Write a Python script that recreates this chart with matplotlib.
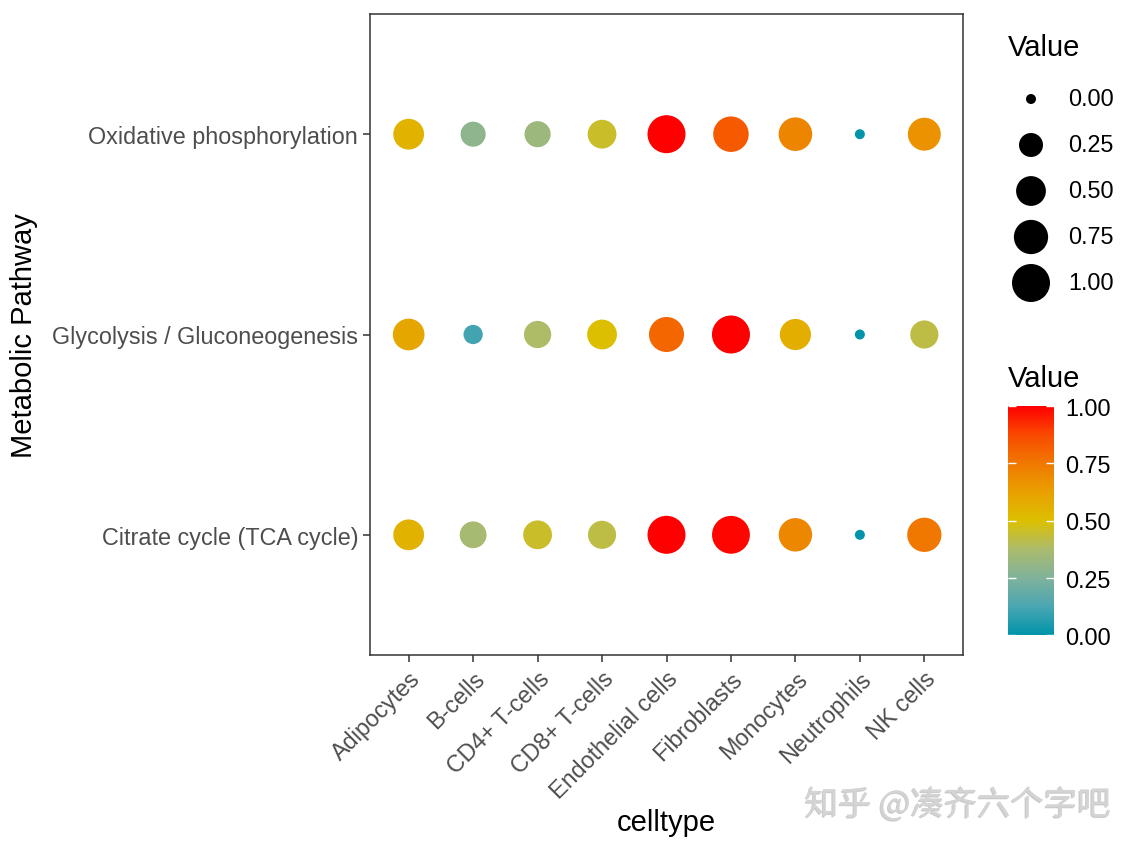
import numpy as np
import matplotlib
matplotlib.use("Agg")
import matplotlib.pyplot as plt
from matplotlib.colors import LinearSegmentedColormap, Normalize
import matplotlib.patheffects as pe

plt.rcParams['font.family'] = ['Liberation Sans', 'DejaVu Sans']

# data
celltypes = ["Adipocytes", "B-cells", "CD4+ T-cells", "CD8+ T-cells", "Endothelial cells",
             "Fibroblasts", "Monocytes", "Neutrophils", "NK cells"]
pathways = ["Citrate cycle (TCA cycle)", "Glycolysis / Gluconeogenesis", "Oxidative phosphorylation"]
tca = [0.55, 0.36, 0.45, 0.42, 1.00, 0.99, 0.70, 0.00, 0.75]
glyco = [0.60, 0.11, 0.38, 0.50, 0.80, 1.00, 0.57, 0.00, 0.42]
oxphos = [0.55, 0.29, 0.33, 0.45, 1.00, 0.83, 0.71, 0.00, 0.67]
size_breaks = [0.00, 0.25, 0.50, 0.75, 1.00]
values = [tca, glyco, oxphos]

# teal -> yellow -> red, stops approximate the Lab-space blend of ggplot
cmap = LinearSegmentedColormap.from_list("val", [
    (0.0, "#0094AA"), (0.125, "#4CA6B2"), (0.25, "#80B29A"), (0.375, "#ACBB6C"),
    (0.5, "#DCC000"), (0.625, "#E9A000"), (0.75, "#F07800"), (0.875, "#F94A00"),
    (1.0, "#FF0000")])
norm = Normalize(0, 1)


def size_of(v):
    # ggplot-like: diameter rescaled from sqrt(value), 10px..38px at dpi 100
    d = 10 + 28 * np.sqrt(np.asarray(v, dtype=float))
    return (d * 0.72) ** 2


W, H = 1144, 854
fig = plt.figure(figsize=(W / 100, H / 100), dpi=100)
ax = fig.add_axes([370 / W, 1 - 656 / H, (963 - 370) / W, (656 - 15) / H])

xs, ys, vs = [], [], []
for j, row in enumerate(values):
    for i, v in enumerate(row):
        xs.append(i + 1)
        ys.append(j + 1)
        vs.append(v)
sc = ax.scatter(xs, ys, s=size_of(vs), c=vs, cmap=cmap, norm=norm, edgecolors='none', zorder=3)

ax.set_xlim(0.4, len(celltypes) + 0.6)
ax.set_ylim(0.4, len(pathways) + 0.6)
ax.set_xticks(range(1, len(celltypes) + 1))
ax.set_xticklabels(celltypes, rotation=45, ha='right', rotation_mode='anchor')
ax.set_yticks(range(1, len(pathways) + 1))
ax.set_yticklabels(pathways)
ax.tick_params(colors='#333333', labelcolor='#4D4D4D', labelsize=16.8, length=5, width=1.1)
for s in ax.spines.values():
    s.set_color('#333333')
    s.set_linewidth(1.1)
ax.set_xlabel("celltype", fontsize=21, labelpad=4)
ax.set_ylabel("Metabolic Pathway", fontsize=21, labelpad=10)

# size legend
fig.text(1008 / W, 1 - 48 / H, "Value", fontsize=21, va='center', ha='left')
lax = fig.add_axes([1008 / W, 1 - 307 / H, 122 / W, 230 / H])
lax.set_xlim(0, 122)
lax.set_ylim(4.5, -0.5)
lax.axis('off')
lax.scatter(np.full(len(size_breaks), 23), np.arange(len(size_breaks)), s=size_of(size_breaks),
            c='black', edgecolors='none', clip_on=False)
for k, b in enumerate(size_breaks):
    lax.text(60, k, f"{b:.2f}", fontsize=16.8, va='center', ha='left')

# colour bar
fig.text(1008 / W, 1 - 379 / H, "Value", fontsize=21, va='center', ha='left')
cax = fig.add_axes([1008 / W, 1 - 636 / H, 46 / W, 229 / H])
cb = fig.colorbar(plt.cm.ScalarMappable(norm=norm, cmap=cmap), cax=cax)
cb.outline.set_visible(False)
cb.set_ticks(size_breaks)
cb.set_ticklabels([f"{b:.2f}" for b in size_breaks])
cax.tick_params(left=True, right=True, direction='in', color='white', length=6, width=1,
                labelsize=16.8, pad=8)

# watermark
fig.text(958 / W, 1 - 806 / H, "知乎 @凑齐六个字吧", fontsize=24, color='#D4D4D4',
         ha='center', va='center', family=['Noto Sans CJK SC', 'DejaVu Sans'],
         path_effects=[pe.withSimplePatchShadow(offset=(-1, -1), shadow_rgbFace='#999999', alpha=0.5), pe.Normal()])

fig.savefig("out.png", dpi=100)
